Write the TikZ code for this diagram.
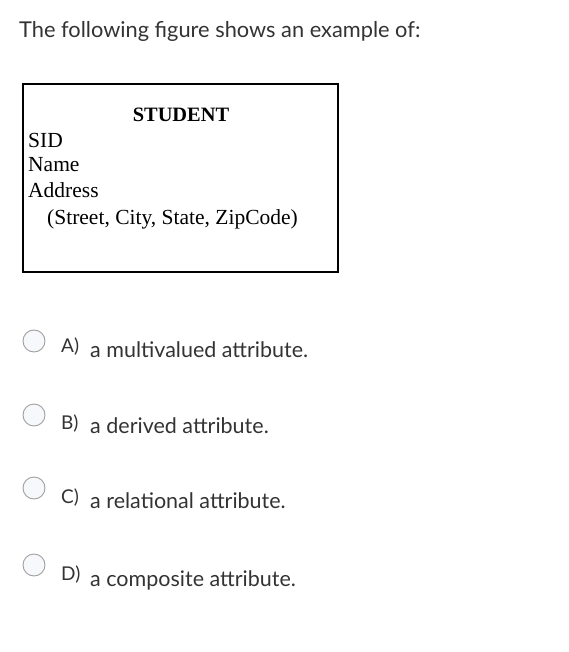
\documentclass[tikz,border=0pt]{standalone}
\usepackage{fontspec}
\setmainfont{Lato}
\newfontfamily\serifbox{Liberation Serif}
\definecolor{txtgray}{HTML}{333333}
\definecolor{ringgray}{HTML}{A0A0A0}
\definecolor{ringfill}{HTML}{F6F8FB}

\begin{document}
\begin{tikzpicture}[x=1pt,y=-1pt]
    \useasboundingbox (0,0) rectangle (568,652);
    \tikzset{
        plain/.style={anchor=base west,inner sep=0pt,text=txtgray},
        attr/.style={anchor=base west,inner sep=0pt,font=\serifbox\fontsize{21.5}{24}\selectfont},
        radio/.style={circle,draw=ringgray,fill=ringfill,line width=0.9pt,minimum size=22pt,inner sep=0pt},
        letter/.style={plain,font=\fontsize{19}{22}\selectfont},
        answer/.style={plain,font=\fontsize{21.5}{24}\selectfont}
    }
    % Question
    \node[plain,font=\fontsize{21.8}{26}\selectfont] (question) at (19,38) {The following figure shows an example of:};
    % Entity box
    \draw[line width=2.6pt] (23,84) rectangle (338,272);
    \node[anchor=base,inner sep=0pt,font=\serifbox\bfseries\fontsize{20.4}{24}\selectfont] (entity) at (181,122) {STUDENT};
    \node[attr] (sid) at (28,148) {SID};
    \node[attr] (name) at (28,172) {Name};
    \node[attr] (address) at (28,198) {Address};
    \node[attr] (parts) at (47,224) {(Street, City, State, ZipCode)};
    % Choices
    \node[radio] (ra) at (34,341) {};
    \node[letter] (la) at (61,352) {A)};
    \node[answer] (ta) at (90,357) {a multivalued attribute.};
    \node[radio] (rb) at (34,415) {};
    \node[letter] (lb) at (61,429) {B)};
    \node[answer] (tb) at (90,433) {a derived attribute.};
    \node[radio] (rc) at (34,488) {};
    \node[letter] (lc) at (61,503) {C)};
    \node[answer] (tc) at (90,508) {a relational attribute.};
    \node[radio] (rd) at (34,565) {};
    \node[letter] (ld) at (61,580) {D)};
    \node[answer] (td) at (90,586) {a composite attribute.};
\end{tikzpicture}
\end{document}
